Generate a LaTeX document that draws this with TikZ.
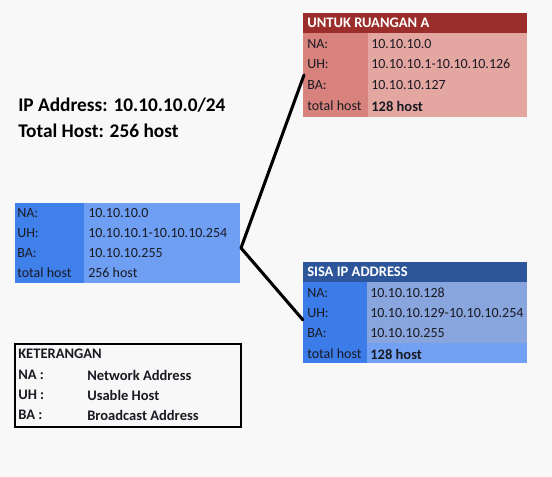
\documentclass[tikz,border=0pt]{standalone}
\usepackage{fontspec}
\setmainfont{Carlito}
\definecolor{bg}{HTML}{F8F8F8}
\definecolor{redhead}{HTML}{9B2D2A}
\definecolor{redleft}{HTML}{D7827C}
\definecolor{redright}{HTML}{E4A6A1}
\definecolor{bluehead}{HTML}{2C5699}
\definecolor{blueleft}{HTML}{3C7CE8}
\definecolor{bluegray}{HTML}{88A5DD}
\definecolor{bluelight}{HTML}{72A1F4}
\definecolor{lbleft}{HTML}{3F80EB}
\definecolor{lbright}{HTML}{6E9FF3}
\definecolor{txt}{HTML}{1A1A22}
\tikzset{
  cell/.style={anchor=west, inner sep=0pt, text=txt, font=\fontsize{10.5}{12}\selectfont},
  hcell/.style={anchor=west, inner sep=0pt, text=white, font=\fontsize{10.9}{12}\selectfont\bfseries},
  bcell/.style={anchor=west, inner sep=0pt, text=txt, font=\fontsize{10.9}{12}\selectfont\bfseries},
  title/.style={anchor=west, inner sep=0pt, text=black, font=\fontsize{14.5}{16}\selectfont\bfseries},
  link/.style={line width=2.3pt, black, line cap=round, line join=round}
}
\begin{document}
\begin{tikzpicture}[x=0.75pt, y=-0.75pt]
\useasboundingbox (0,0) rectangle (552,477);
\fill[bg] (0,0) rectangle (552,477);

% Title
\node[title] (t1) at (18,105) {IP Address: 10.10.10.0/24};
\node[title] (t2) at (18,131) {Total Host: 256 host};

% Left box
\fill[lbleft] (15,203) rectangle (84,283);
\fill[lbright] (84,203) rectangle (240,283);
\node[cell] (l1a) at (17,213) {NA:};
\node[cell] (l1b) at (88,213) {10.10.10.0};
\node[cell] (l2a) at (17,233) {UH:};
\node[cell] (l2b) at (88,233) {10.10.10.1-10.10.10.254};
\node[cell] (l3a) at (17,253) {BA:};
\node[cell] (l3b) at (88,253) {10.10.10.255};
\node[cell] (l4a) at (17,273) {total host};
\node[cell] (l4b) at (88,273) {256 host};
\coordinate (lv) at (241,248);

% Top right box (red)
\fill[redhead] (303,13) rectangle (527,33);
\fill[redleft] (303,33) rectangle (368,117);
\fill[redright] (368,33) rectangle (527,117);
\node[hcell] (rh) at (307,23) {UNTUK RUANGAN A};
\node[cell] (r1a) at (307,44) {NA:};
\node[cell] (r1b) at (371,44) {10.10.10.0};
\node[cell] (r2a) at (307,64) {UH:};
\node[cell] (r2b) at (371,64) {10.10.10.1-10.10.10.126};
\node[cell] (r3a) at (307,85) {BA:};
\node[cell] (r3b) at (371,85) {10.10.10.127};
\node[cell] (r4a) at (307,106) {total host};
\node[bcell] (r4b) at (371,106) {128 host};
\coordinate (rv) at (304,75);

% Bottom right box (blue)
\fill[bluehead] (303,262) rectangle (527,282);
\fill[blueleft] (303,282) rectangle (367,363);
\fill[bluegray] (367,282) rectangle (527,343);
\fill[bluelight] (367,343) rectangle (527,363);
\node[hcell] (bh) at (307,272) {SISA IP ADDRESS};
\node[cell] (b1a) at (307,293) {NA:};
\node[cell] (b1b) at (370,293) {10.10.10.128};
\node[cell] (b2a) at (307,313) {UH:};
\node[cell] (b2b) at (370,313) {10.10.10.129-10.10.10.254};
\node[cell] (b3a) at (307,333) {BA:};
\node[cell] (b3b) at (370,333) {10.10.10.255};
\node[cell] (b4a) at (307,354) {total host};
\node[bcell] (b4b) at (370,354) {128 host};
\coordinate (bv) at (303,320);

% Connectors
\draw[link] (rv) -- (lv) -- (bv);

% Keterangan box
\draw[black, line width=1.5pt] (15,344) rectangle (241,427);
\node[bcell] (k0) at (18,354) {KETERANGAN};
\node[bcell] (k1a) at (18,375) {NA :};
\node[bcell] (k1b) at (87,375) {Network Address};
\node[bcell] (k2a) at (18,395) {UH :};
\node[bcell] (k2b) at (87,395) {Usable Host};
\node[bcell] (k3a) at (18,415) {BA :};
\node[bcell] (k3b) at (87,415) {Broadcast Address};
\end{tikzpicture}
\end{document}
